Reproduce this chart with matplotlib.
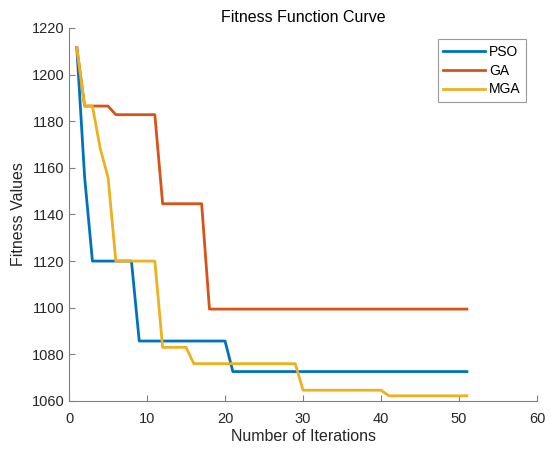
import matplotlib
matplotlib.use("Agg")
import matplotlib.pyplot as plt

plt.rcParams['font.family'] = ['Liberation Sans', 'DejaVu Sans']

iters = list(range(1, 52))

def steps(points, n=51):
    # points: list of (iteration, value) where value holds from that iteration on
    vals = []
    d = dict(points)
    cur = None
    for i in range(1, n + 1):
        if i in d:
            cur = d[i]
        vals.append(cur)
    return vals

pso_pts = [(1, 1211.5), (2, 1156), (3, 1120), (9, 1085.7), (21, 1072.6)]
ga_pts = [(1, 1211.5), (2, 1186.5), (6, 1182.8), (12, 1144.6), (18, 1099.4)]
mga_pts = [(1, 1211.5), (2, 1186.5), (4, 1168.3), (5, 1156), (6, 1120),
           (12, 1083), (16, 1076), (30, 1064.6), (41, 1062.2)]

pso = steps(pso_pts)
ga = steps(ga_pts)
mga = steps(mga_pts)

labels = ['PSO', 'GA', 'MGA']
colors = ['#0072BD', '#D95319', '#EDB120']

fig = plt.figure(figsize=(5.5, 4.51), dpi=100)
ax = fig.add_axes([0.1255, 0.111, 0.851, 0.827])

for y, lab, c in zip([pso, ga, mga], labels, colors):
    ax.plot(iters, y, color=c, lw=2.0, label=lab)

ax.set_xlim(0, 60)
ax.set_ylim(1060, 1220)
ax.set_xticks(range(0, 61, 10))
ax.set_yticks(range(1060, 1221, 20))
for s in ['top', 'right']:
    ax.spines[s].set_visible(False)
for s in ['left', 'bottom']:
    ax.spines[s].set_color('#808080')
    ax.spines[s].set_linewidth(0.8)
ax.tick_params(direction='in', length=4, color='#808080', labelsize=10.5,
               labelcolor='#262626', width=0.8)
ax.tick_params(axis='x', pad=8)
ax.set_xlabel('Number of Iterations', fontsize=11.5, color='#262626', labelpad=2)
ax.set_ylabel('Fitness Values', fontsize=11.5, color='#262626', labelpad=4)
ax.set_title('Fitness Function Curve', fontsize=11.5, color='#000000', pad=4)

leg = ax.legend(loc='upper right', bbox_to_anchor=(0.977, 0.97), fontsize=10,
                frameon=True, fancybox=False, handlelength=3.0,
                handletextpad=0.3, borderpad=0.4, labelspacing=0.35,
                borderaxespad=0)
leg.get_frame().set_edgecolor('#808080')
leg.get_frame().set_linewidth(0.8)

fig.savefig('out.png', dpi=100)
